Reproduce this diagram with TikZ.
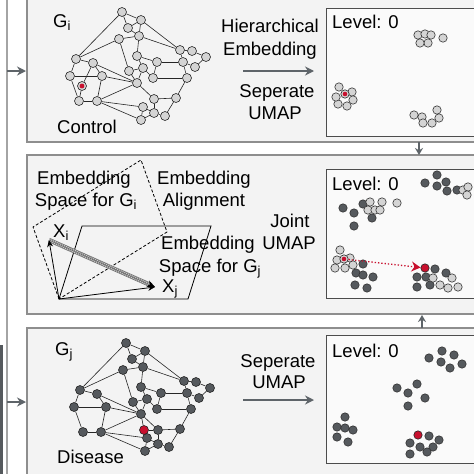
\documentclass[tikz,border=0pt]{standalone}
\usepackage{fontspec}
\setmainfont{Liberation Sans}
\usetikzlibrary{arrows.meta}

\definecolor{panelfill}{HTML}{F3F3F3}
\definecolor{panelline}{HTML}{8E8E8E}
\definecolor{flowgray}{HTML}{5E6469}
\definecolor{lightnode}{HTML}{D4D4D4}
\definecolor{darknode}{HTML}{55595D}
\definecolor{marker}{HTML}{C8102E}

\tikzset{
  txt/.style={font=\fontsize{18.5}{22.5}\selectfont, inner sep=0pt},
  panel/.style={fill=panelfill, draw=panelline, line width=1.2pt},
  levelbox/.style={fill=black!2, draw=black!70, line width=0.9pt},
  flow/.style={flowgray, line width=1.4pt, -{Stealth[length=9pt,width=9pt]}},
  gnode/.style={circle, draw=black!85, line width=0.6pt, minimum size=9pt, inner sep=0pt},
  gedge/.style={black!85, line width=0.6pt},
  dot/.style={draw=black!80, line width=0.6pt},
}

% one network, #1 = name prefix, #2 = node fill
\newcommand{\netlayout}[2]{%
  \foreach \n/\x/\y in {a/122/12, b/141/20, c/128/28, d/139/36, e/119/39,
      f/180/50, g/192/51, h/206/57, i/195/67, j/183/62, k/137/56, l/157/62,
      m/143/68, n/129/71, o/153/78, p/137/83, q/187/78, r/76/59, s/93/63,
      t/70/76, u/102/76, v/79/101, w/97/101, x/154/99, y/176/98, z/143/107,
      A/154/113, B/165/116, C/141/120}
    \node[gnode, fill=#2] (#1\n) at (\x,\y) {};
  \foreach \u/\v in {a/b, a/c, a/r, b/c, b/d, b/f, c/d, d/e, e/r, e/n, d/k,
      d/f, k/l, k/m, n/m, n/p, l/o, m/o, m/p, l/j, o/q, q/j, f/g, g/h, h/i,
      i/j, j/f, q/y, r/s, r/t, s/u, t/u, t/v, s/p, u/p, w/p, v/w, u/w, x/p,
      w/z, w/C, x/y, x/A, y/B, z/A, A/B, z/C, C/A}
    \draw[gedge] (#1\u) -- (#1\v);
}

\begin{document}
\begin{tikzpicture}[x=1pt, y=-1pt]
  \clip (0,0) rectangle (474,474);
  \fill[white] (0,0) rectangle (474,474);

  % left rail
  \draw[panelline!80, line width=1.2pt] (7,0) -- (7,474);
  \fill[darknode] (0,345) rectangle (3,474);

  % panels
  \draw[panel] (27,-5) rectangle (480,142);
  \draw[panel] (27,155) rectangle (480,314);
  \draw[panel] (27,328) rectangle (480,480);

  \coordinate (railtop) at (7,71);
  \coordinate (railbot) at (7,402);
  \coordinate (intop) at (26,71);
  \coordinate (inbot) at (26,402);
  \draw[flow] (railtop) -- (intop);
  \draw[flow] (railbot) -- (inbot);

  \coordinate (downfrom) at (419,142);
  \coordinate (downto) at (419,155);
  \coordinate (upfrom) at (422,328);
  \coordinate (upto) at (422,315);
  \draw[flow, line width=1.2pt, -{Stealth[length=7pt,width=8pt]}] (downfrom) -- (downto);
  \draw[flow, line width=1.2pt, -{Stealth[length=7pt,width=8pt]}] (upfrom) -- (upto);

  % control network
  \netlayout{ci}{lightnode}
  \node[gnode, fill=lightnode] (cired) at (82,86) {};
  \fill[marker] (cired) circle (2.4pt);
  \draw[gedge] (cired) -- (cis);
  \draw[gedge] (cired) -- (civ);
  \node[txt, anchor=base west] (gi) at (53,27) {G\textsubscript{i}};
  \node[txt, anchor=base west] (control) at (57,133) {Control};

  % disease network
  \begin{scope}[shift={(4,331)}]
    \netlayout{dj}{darknode}
    \node[gnode, fill=marker] (djred) at (140,99) {};
    \draw[gedge] (djred) -- (djp);
    \draw[gedge] (djred) -- (djx);
  \end{scope}
  \node[txt, anchor=base west] (gj) at (55,355) {G\textsubscript{j}};
  \node[txt, anchor=base west] (disease) at (57,463) {Disease};

  % top labels
  \node[txt, anchor=base] (hier) at (270,32) {Hierarchical};
  \node[txt, anchor=base] (embed) at (270,55) {Embedding};
  \coordinate (topfrom) at (243,71);
  \coordinate (topto) at (314,71);
  \draw[flow] (topfrom) -- (topto);
  \node[txt, anchor=base] (sepa) at (277,97) {Seperate};
  \node[txt, anchor=base] (umapa) at (275,119) {UMAP};

  % bottom labels
  \node[txt, anchor=base] (sepb) at (278,367) {Seperate};
  \node[txt, anchor=base] (umapb) at (279,388) {UMAP};
  \coordinate (botfrom) at (243,400);
  \coordinate (botto) at (314,400);
  \draw[flow] (botfrom) -- (botto);

  % level boxes
  \draw[levelbox] (326,8) rectangle (480,136);
  \draw[levelbox] (326,169) rectangle (480,298);
  \draw[levelbox] (326,335) rectangle (480,463);
  \node[txt, anchor=base west] (lvla) at (332,28) {Level: 0};
  \node[txt, anchor=base west] (lvlb) at (332,190) {Level: 0};
  \node[txt, anchor=base west] (lvlc) at (332,357) {Level: 0};

  % top level clusters
  \foreach \x/\y in {418/35, 425/34, 431/35, 428/43, 420/43, 443/38,
      339/87, 352/92, 353/100, 347/106, 338/104, 336/97,
      414/115, 422/117, 423/123, 432/123, 437/110, 439/118}
    \filldraw[dot, fill=lightnode] (\x,\y) circle (4.2pt);
  \node[gnode, fill=lightnode, minimum size=8.4pt] (lvlared) at (345,94) {};
  \fill[marker] (lvlared) circle (2.3pt);

  % joint level clusters
  \foreach \x/\y/\c in {343/208/darknode, 354/213/darknode, 354/226/darknode,
      363/204/darknode, 372/218/darknode, 370/202/lightnode, 368/210/lightnode,
      375/210/lightnode, 382/202/lightnode, 380/210/lightnode, 397/203/lightnode,
      425/183/darknode, 437/175/darknode, 437/186/darknode, 446/182/darknode,
      447/191/darknode, 457/190/darknode, 463/190/lightnode, 468/187/lightnode,
      467/195/lightnode,
      340/250/lightnode, 337/260/lightnode, 335/268/lightnode, 345/268/lightnode,
      350/258/lightnode, 353/265/lightnode, 363/264/darknode, 356/273/darknode,
      363/275/darknode, 373/277/darknode, 355/285/darknode, 367/288/darknode,
      435/269/darknode, 417/277/darknode, 426/277/darknode, 446/273/darknode,
      417/287/darknode, 430/285/darknode, 433/278/lightnode, 440/285/lightnode,
      452/278/lightnode, 448/288/lightnode, 458/287/lightnode}
    \filldraw[dot, fill=\c] (\x,\y) circle (4.2pt);
  \node[gnode, fill=lightnode, minimum size=8.4pt] (jointsrc) at (344,259) {};
  \fill[marker] (jointsrc) circle (2.3pt);
  \node[gnode, fill=marker, minimum size=8.4pt] (jointdst) at (425,268) {};
  \draw[marker, line width=1.3pt, dotted, -{Stealth[length=9pt,width=10pt]}]
    (jointsrc) -- (jointdst);

  % bottom level clusters
  \foreach \x/\y in {429/358, 442/351, 441/362, 454/355, 450/368, 462/364,
      397/388, 408/393, 417/384, 425/398, 408/406,
      345/417, 337/427, 345/428, 353/430, 337/437, 348/442,
      429/436, 410/443, 420/447, 439/440, 433/447, 427/452, 410/454}
    \filldraw[dot, fill=darknode] (\x,\y) circle (4.2pt);
  \node[gnode, fill=marker, minimum size=8.4pt] (lvlcred) at (418,435) {};

  % embedding spaces
  \coordinate (orig) at (59,299);
  \coordinate (da) at (33,227);
  \coordinate (db) at (141,160);
  \coordinate (dc) at (167,232);
  \coordinate (sa) at (188,299);
  \coordinate (sb) at (211,226);
  \coordinate (sc) at (82,226);
  \draw[black, line width=0.8pt, dash pattern=on 3pt off 2pt] (orig) -- (da) -- (db) -- (dc) -- cycle;
  \draw[black, line width=0.8pt] (orig) -- (sa) -- (sb) -- (sc) -- cycle;
  \coordinate (xi) at (49,240);
  \coordinate (xj) at (155,287);
  \draw[line width=4.4pt, black!55, shorten >=4pt] (xi) -- (xj);
  \draw[line width=3pt, black!20, dash pattern=on 1pt off 1pt, shorten >=4pt] (xi) -- (xj);
  \draw[line width=0.8pt, -{Stealth[length=7pt,width=6pt]}] (orig) -- (xi);
  \draw[line width=0.8pt, -{Stealth[length=7pt,width=6pt]}] (orig) -- (xj);
  \draw[line width=0.5pt, black!60, -{Stealth[length=8pt,width=7pt,black]}] (xi) -- (xj);
  \node[txt, anchor=base west] (xilbl) at (53,237) {X\textsubscript{i}};
  \node[txt, anchor=base west] (xjlbl) at (162,292) {X\textsubscript{j}};

  % middle labels
  \node[txt, anchor=base] (espi) at (84,184) {Embedding};
  \node[txt, anchor=base] (espib) at (86,206) {Space for G\textsubscript{i}};
  \node[txt, anchor=base] (ealn) at (204,184) {Embedding};
  \node[txt, anchor=base] (ealnb) at (204,206) {Alignment};
  \node[txt, anchor=base] (espj) at (208,249) {Embedding};
  \node[txt, anchor=base] (espjb) at (210,272) {Space for G\textsubscript{j}};
  \node[txt, anchor=base] (joint) at (290,227) {Joint};
  \node[txt, anchor=base] (jumap) at (289,249) {UMAP};
\end{tikzpicture}
\end{document}
